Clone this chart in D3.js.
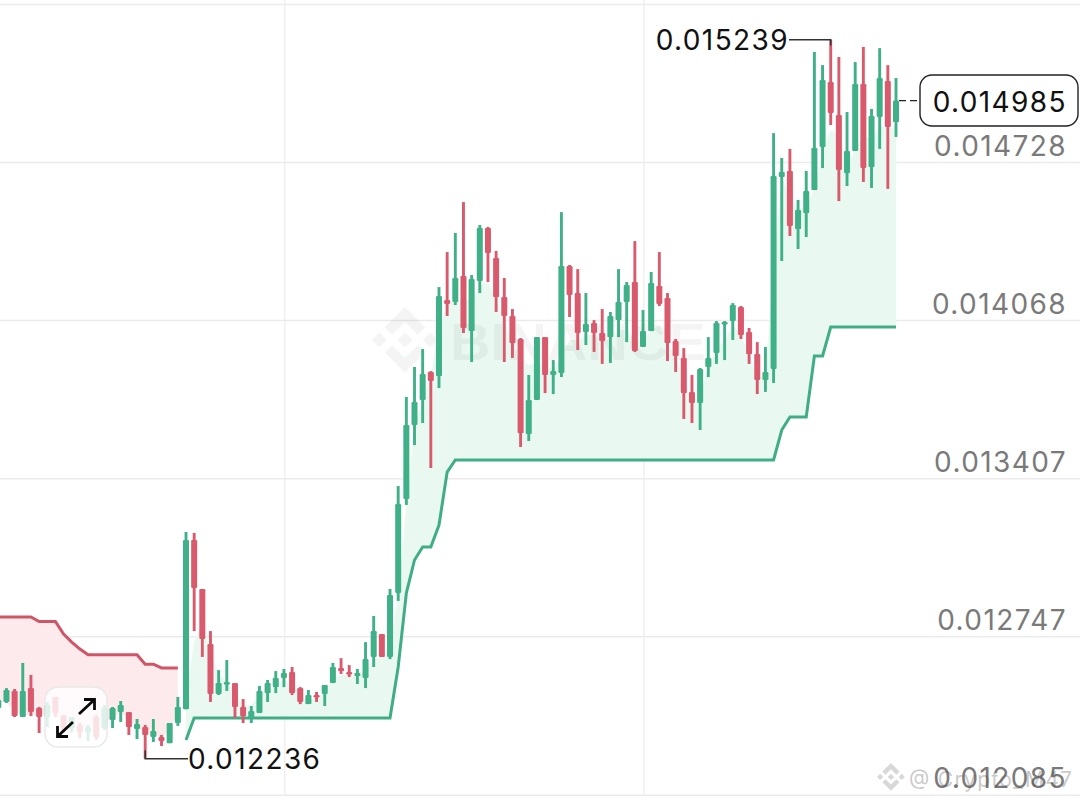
<!DOCTYPE html>
<html>
<head>
<meta charset="utf-8">
<script src="https://cdn.jsdelivr.net/npm/d3@7"></script>
<style>
  html, body { margin: 0; padding: 0; background: #fff; }
  svg { display: block; }
  text { font-family: Inter, "Noto Sans", sans-serif; }
</style>
</head>
<body>
<div id="chart"></div>
<script>
// price ticks on the right hand side, first one has no label in the crop
const gridPrices = [0.015388, 0.014728, 0.014068, 0.013407, 0.012747, 0.012085];
const tickLabels = ['', '0.014728', '0.014068', '0.013407', '0.012747', '0.012085'];
const lastPrice = 0.014985;
const highPrice = 0.015239;
const lowPrice = 0.012236;
const highIndex = 102;
const lowIndex = 18;

// candles, prices in millionths
const opens = [12448,12473,12519,12410,12531,12448,12410,12494,12418,12364,12377,12347,12410,12364,12398,12431,12431,12360,12368,12327,12327,12301,12385,
  12443,13149,12945,12715,12506,12548,12552,12452,12406,12427,12510,12535,12573,12598,12531,12464,12502,12506,12552,12615,12598,12581,12573,12661,12757,12661,
  12928,13321,13630,13734,13851,13834,14152,14144,14252,14022,14231,14453,14327,14164,14085,13989,13592,13734,13997,13839,13847,14294,14181,14018,14056,14014,
  13997,14068,14144,14227,13956,14022,14210,14160,13981,13910,13768,13722,13872,13931,14052,14064,14123,14018,13926,13818,
  13864,14666,14691,14448,14515,14611,14791,15062,14925,14682,14774,15054,14707,14916,15067,14895];
const highs = [12490,12531,12527,12636,12586,12452,12473,12494,12418,12410,12385,12377,12418,12460,12452,12477,12431,12402,12377,12402,12335,12385,12494,
  13183,13179,12945,12769,12606,12648,12552,12485,12456,12540,12565,12602,12611,12619,12535,12523,12515,12544,12636,12656,12627,12611,12723,12832,12757,12945,
  13375,13747,13872,13947,13855,14206,14352,14432,14561,14256,14465,14457,14357,14244,14114,13993,13839,13997,13997,13901,14519,14298,14281,14181,14068,14114,
  14102,14281,14227,14398,14110,14269,14352,14181,13989,13951,13839,13868,13997,14064,14064,14139,14127,14035,13976,13956,
  14849,14745,14783,14570,14691,15188,15133,15239,15167,14937,15146,15209,14950,15204,15133,15079];
const lows = [12439,12469,12410,12410,12414,12343,12368,12410,12343,12347,12322,12310,12314,12356,12364,12389,12335,12318,12236,12306,12289,12301,12373,
  12443,12769,12661,12473,12502,12519,12406,12385,12385,12427,12473,12510,12535,12502,12464,12464,12473,12456,12552,12590,12577,12548,12531,12619,12661,12652,
  12895,13296,13546,13638,13450,13784,14085,14131,14014,13893,14181,14227,14102,13893,13910,13538,13563,13734,13763,13759,13830,14081,13943,13964,13935,13885,
  13889,13997,13976,13935,13956,14022,14127,13897,13851,13655,13638,13609,13830,13885,13901,13985,13989,13885,13759,13768,
  13805,14315,14419,14365,14415,14611,14703,14883,14565,14628,14774,14645,14620,14783,14616,14833];
const closes = [12481,12523,12414,12519,12431,12410,12460,12427,12356,12410,12347,12368,12327,12448,12448,12460,12368,12381,12335,12352,12310,12385,12452,
  13149,12949,12736,12506,12552,12556,12452,12414,12435,12519,12552,12573,12594,12510,12473,12502,12494,12544,12619,12602,12590,12594,12652,12769,12661,12920,
  13300,13630,13726,13843,13814,14169,14135,14244,14035,14240,14453,14348,14164,14085,13972,13596,13734,13997,13839,13855,14294,14173,14014,14052,14014,13981,
  14085,14144,14215,13939,14022,14223,14135,13972,13918,13763,13722,13864,13910,14056,14060,14131,14006,13926,13818,13851,
  14670,14687,14461,14528,14607,14787,15071,14933,14695,14774,15054,14703,14920,15079,14875,14985];

// supertrend lines, red for candles 0-22, green for candles 23-110
const trendDown = [12828,12828,12828,12828,12828,12809,12809,12809,12757,12723,12694,12670,12670,12670,12670,12670,12670,12670,12631,12631,12615,12615,12615];
const trendUp = [12314,12406,12406,12406,12406,12406,12406,12406,12406,12406,12406,12406,12406,12406,12406,12406,12406,12406,12406,12406,12406,12406,12406,12406,12406,12406,
  12619,12928,13066,13120,13120,13212,13433,
  13484,13484,13484,13484,13484,13484,13484,13484,13484,13484,13484,13484,13484,13484,13484,13484,13484,13484,13484,13484,
  13484,13484,13484,13484,13484,13484,13484,13484,13484,13484,13484,13484,13484,13484,13484,13484,13484,13484,13484,13484,
  13609,13663,13663,13663,13918,13918,14039,14039,14039,14039,14039,14039,14039,14039,14039];

// inner edge of the shaded bands
const bandDown = [12481,12473,12431,12418,12418,12418,12418,12418,12398,12389,12377,12364,12364,12389,12406,12431,12398,12368,12347,12335,12322,12356,12431];
const bandUp = [12481,12732,12794,12690,12586,12565,12502,12460,12460,12502,12523,12544,12565,12544,12502,12481,12490,12515,12565,12586,12586,12577,12606,12648,12661,12690,
  12920,13296,13630,13734,13834,14027,14144,14144,14152,14152,14215,14227,14152,14068,13972,13901,13880,13893,13880,13860,13922,13985,13985,14006,14006,13985,13985,
  14027,14027,13985,13985,14027,14047,13964,13922,13818,13734,13755,13880,13943,13985,14047,14006,13922,13826,13839,14300,
  14662,14590,14528,14549,14611,14778,14862,14841,14716,14778,14841,14820,14883,14862,14883];

const UP = '#3fb088', DOWN = '#da5a6d', UP_LINE = '#41ad87', DOWN_LINE = '#cf5567';
const LABEL = '#7a7a7a', GRID = '#f0f0f0';
const width = 1080, height = 803;
const m = v => v / 1e6;

const svg = d3.select('#chart').append('svg')
  .attr('width', width).attr('height', height)
  .attr('viewBox', `0 0 ${width} ${height}`);

const x = d3.scaleLinear().domain([0, 110]).range([-1.7, 896]);
const y = d3.scaleLinear().domain([0.015405, 0.012051]).range([0, 803]);

// vertical grid, the two time divisions in the crop
svg.selectAll('line.vgrid').data([35.1, 79.1]).join('line')
  .attr('class', 'vgrid')
  .attr('x1', d => x(d)).attr('x2', d => x(d))
  .attr('y1', 0).attr('y2', y(0.012085))
  .attr('stroke', GRID).attr('stroke-width', 1.5);

// horizontal grid + labels
const axis = d3.axisRight(y)
  .tickValues(gridPrices)
  .tickSize(0)
  .tickFormat((d, i) => tickLabels[i]);
const axisG = svg.append('g').call(axis);
axisG.select('.domain').remove();
axisG.selectAll('.tick line')
  .attr('x1', 0).attr('x2', width)
  .attr('stroke', GRID).attr('stroke-width', 1.5);

// shaded bands
const downArea = d3.area()
  .x((d, i) => x(i))
  .y0((d, i) => y(m(bandDown[i])))
  .y1(d => y(m(d)));
svg.append('path').datum(trendDown).attr('d', downArea).attr('fill', '#fdeaec');

const upArea = d3.area()
  .x((d, i) => x(i + 23))
  .y0(d => y(m(d)))
  .y1((d, i) => y(m(bandUp[i])));
svg.append('path').datum(trendUp).attr('d', upArea).attr('fill', '#e9f9f2');

// grid has to read through the bands a little
axisG.selectAll('.tick line').clone(true).raise().attr('stroke', '#000').attr('stroke-opacity', 0.02);

// watermark, centre of the chart
const LOGO = ['M38.73 53.2l24.59-24.58 24.6 24.6 14.3-14.31L63.32 0 24.42 38.9z',
  'M0 63.31l14.3-14.31 14.31 14.31-14.31 14.3z',
  'M38.73 73.41l24.59 24.59 24.6-24.6 14.31 14.29-38.9 38.91-38.91-38.88-.02-.02z',
  'M98 63.31l14.3-14.31 14.31 14.3-14.31 14.32z',
  'M77.83 63.3L63.32 48.78 52.59 59.51l-1.24 1.23-2.54 2.54 14.51 14.5 14.51-14.47z'];
const mark = svg.append('g').attr('fill', '#000').attr('fill-opacity', 0.045);
mark.append('g').attr('transform', 'translate(372,307) scale(.52)')
  .selectAll('path').data(LOGO).join('path').attr('d', d => d);
mark.append('text').attr('x', 450).attr('y', 360)
  .attr('font-size', 52).attr('font-weight', 700)
  .attr('textLength', 256).attr('lengthAdjust', 'spacingAndGlyphs')
  .style('font-family', '"Liberation Sans", sans-serif')
  .text('BINANCE');

// trend lines
const downLine = d3.line().x((d, i) => x(i)).y(d => y(m(d)));
svg.append('path').datum(trendDown).attr('d', downLine)
  .attr('fill', 'none').attr('stroke', DOWN_LINE).attr('stroke-width', 3);
const upLine = d3.line().x((d, i) => x(i + 23)).y(d => y(m(d)));
svg.append('path').datum(trendUp).attr('d', upLine)
  .attr('fill', 'none').attr('stroke', UP_LINE).attr('stroke-width', 3);

// candles
const candles = svg.append('g').selectAll('g').data(opens).join('g')
  .attr('fill', (d, i) => closes[i] >= d ? UP : DOWN)
  .attr('stroke', (d, i) => closes[i] >= d ? UP : DOWN);
candles.append('line')
  .attr('x1', (d, i) => x(i)).attr('x2', (d, i) => x(i))
  .attr('y1', (d, i) => y(m(highs[i]))).attr('y2', (d, i) => y(m(lows[i])))
  .attr('stroke-width', 2.9);
candles.append('rect')
  .attr('stroke', 'none')
  .attr('x', (d, i) => x(i) - 3).attr('width', 6)
  .attr('y', (d, i) => y(m(Math.max(d, closes[i]))))
  .attr('height', (d, i) => Math.max(2.5, Math.abs(y(m(d)) - y(m(closes[i])))))
  .attr('rx', 1.2);

// high / low callouts
svg.append('polyline')
  .attr('points', [[x(highIndex), y(m(15215))], [x(highIndex), y(highPrice)], [789, y(highPrice)]].join(' '))
  .attr('fill', 'none').attr('stroke', '#333').attr('stroke-width', 1.5);
svg.append('polyline')
  .attr('points', [[x(lowIndex), y(m(12270))], [x(lowIndex), y(lowPrice)], [188, y(lowPrice)]].join(' '))
  .attr('fill', 'none').attr('stroke', '#333').attr('stroke-width', 1.5);

const labelStyle = sel => sel.attr('font-size', 28).attr('letter-spacing', 1.4);
svg.append('text').attr('x', 789).attr('y', y(highPrice) + 10).attr('text-anchor', 'end')
  .attr('fill', '#111').call(labelStyle).text(highPrice.toFixed(6));
svg.append('text').attr('x', 188).attr('y', y(lowPrice) + 10)
  .attr('fill', '#111').call(labelStyle).text(lowPrice.toFixed(6));

// axis label text
axisG.selectAll('.tick text')
  .attr('x', 1067).attr('dy', 0).attr('y', -7)
  .attr('text-anchor', 'end').attr('fill', LABEL)
  .call(labelStyle)
  .style('font-family', 'Inter, "Noto Sans", sans-serif');

// last price tag
svg.append('line')
  .attr('x1', x(110) + 3).attr('x2', 918)
  .attr('y1', y(lastPrice)).attr('y2', y(lastPrice))
  .attr('stroke', '#222').attr('stroke-width', 1.3).attr('stroke-dasharray', '7 4');
svg.append('rect')
  .attr('x', 920).attr('y', 75).attr('width', 158).attr('height', 51).attr('rx', 12)
  .attr('fill', '#fff').attr('stroke', '#222').attr('stroke-width', 1.4);
svg.append('text').attr('x', 1067).attr('y', 112).attr('text-anchor', 'end')
  .attr('fill', '#111').call(labelStyle).text(lastPrice.toFixed(6));

// expand button sitting on the left candles
const btn = svg.append('g');
btn.append('rect')
  .attr('x', 45).attr('y', 687).attr('width', 62).attr('height', 60).attr('rx', 13)
  .attr('fill', '#fff').attr('fill-opacity', 0.82)
  .attr('stroke', '#e9e9e9').attr('stroke-width', 1.5);
btn.selectAll('path').data(['M79 714L94 700M84 699.5H94.5V710', 'M73 722L58 736M57.5 726V736.5H68']).join('path')
  .attr('d', d => d).attr('fill', 'none')
  .attr('stroke', '#0a0a0a').attr('stroke-width', 2.8);

// bottom right credit
const credit = svg.append('g').attr('opacity', 0.28);
credit.append('g').attr('transform', 'translate(877,763) scale(.22)').attr('fill', '#777')
  .selectAll('path').data(LOGO).join('path').attr('d', d => d);
credit.append('text').attr('x', 909).attr('y', 787).attr('font-size', 21).attr('fill', '#444')
  .attr('textLength', 163).text('@ Crypto_M47');
</script>
</body>
</html>
